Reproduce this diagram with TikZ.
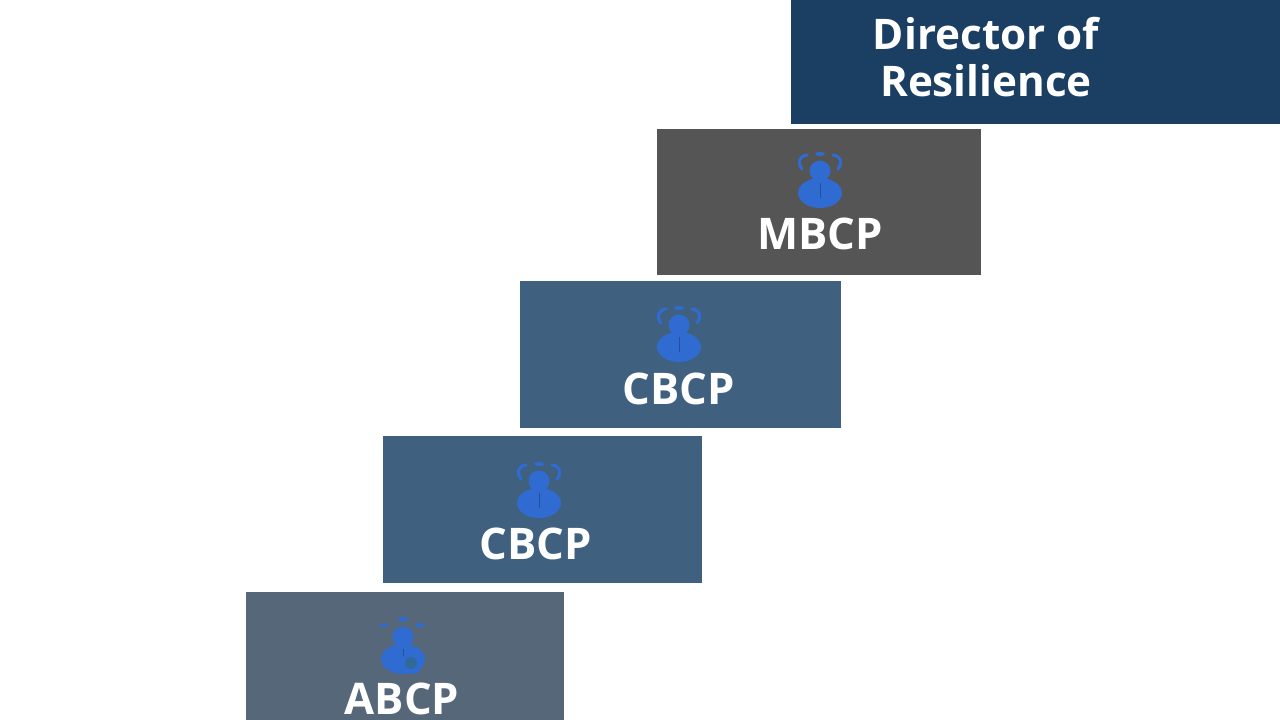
\documentclass[tikz,border=0pt]{standalone}
\usepackage{fontspec}
\setmainfont{Open Sans}
\usepackage{tikz}
\usetikzlibrary{positioning}
\definecolor{directorblue}{HTML}{1A3F63}
\definecolor{mbcpgrey}{HTML}{555555}
\definecolor{cbcpblue}{HTML}{406080}
\definecolor{abcpgrey}{HTML}{56677A}
\definecolor{iconblue}{HTML}{2F6BD0}
\definecolor{badgeteal}{HTML}{2F6A9A}
\tikzset{
  stair/.style={draw=none,inner sep=0pt,minimum width=#1*0.025cm,minimum height=147*0.025cm},
  stairtext/.style={text=white,font=\bfseries\fontsize{31}{31}\selectfont,inner sep=0pt},
  personbase/.pic={
    \fill [iconblue] (0,-7) circle [radius=10.5];
    \fill [iconblue] (0,15) ellipse [x radius=22,y radius=15];
    \draw [iconblue!75!black,line width=0.5pt] (0,5) -- (0,20);
  },
  person/.pic={
    \pic {personbase};
    \draw [iconblue,line width=2.2pt,line cap=round] (-18,-9) .. controls (-23,-15) and (-21,-22) .. (-13,-23);
    \draw [iconblue,line width=2.2pt,line cap=round] (18,-9) .. controls (23,-15) and (21,-22) .. (13,-23);
    \fill [iconblue] (0,-24) ellipse [x radius=5,y radius=2];
  },
  personbadge/.pic={
    \pic {personbase};
    \fill [iconblue] (-19,-19) ellipse [x radius=5,y radius=1.5];
    \fill [iconblue] (17,-19) ellipse [x radius=5,y radius=2];
    \fill [iconblue] (0,-25) ellipse [x radius=5,y radius=2.5];
    \fill [iconblue] (9,19) circle [radius=11];
    \fill [badgeteal] (8,19) circle [radius=6];
  }
}
\begin{document}
\begin{tikzpicture}[x=0.025cm,y=-0.025cm]
  \clip (0,0) rectangle (1280,720);
  \fill [white] (0,0) rectangle (1280,720);
  % steps
  \node [stair=489,minimum height=124*0.025cm,fill=directorblue] (director) at (1035.5,62) {};
  \node [stair=324,minimum height=146*0.025cm,fill=mbcpgrey] (mbcp) at (819,202) {};
  \node [stair=321,fill=cbcpblue] (cbcpb) at (680.5,354.5) {};
  \node [stair=319,fill=cbcpblue] (cbcpa) at (542.5,509.5) {};
  \node [stair=318,fill=abcpgrey] (abcp) at (405,665) {};
  % labels
  \node [stairtext,align=center,font=\bfseries\fontsize{30}{33}\selectfont] (directortext) at (986,57) {Director of\\Resilience};
  \node [stairtext] (mbcptext) at (820,234) {MBCP};
  \node [stairtext] (cbcpbtext) at (679,389) {CBCP};
  \node [stairtext] (cbcpatext) at (536,544) {CBCP};
  \node [stairtext] (abcptext) at (402,699) {ABCP};
  % icons
  \pic at (820,178) {person};
  \pic at (679,332) {person};
  \pic at (539,488) {person};
  \pic at (403,644) {personbadge};
\end{tikzpicture}
\end{document}
